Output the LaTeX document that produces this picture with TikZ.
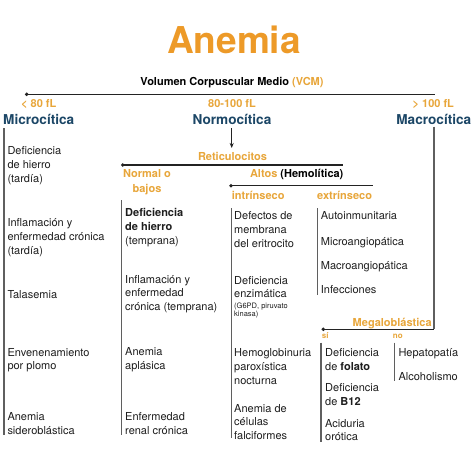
\documentclass[tikz,border=0pt]{standalone}
\usepackage{fontspec}
\setmainfont{TeX Gyre Heros}
\definecolor{anorange}{RGB}{237,154,40}
\definecolor{lblorange}{RGB}{232,166,58}
\definecolor{anblue}{RGB}{27,70,102}
\definecolor{vline}{RGB}{95,95,95}
\definecolor{hline}{RGB}{35,35,35}
\definecolor{bodytxt}{RGB}{30,30,30}
\usetikzlibrary{arrows.meta}
\tikzset{
 txt/.style={anchor=base west, inner sep=0pt, align=left, font=\fontsize{11}{13.9}\selectfont, text=bodytxt},
 smalltxt/.style={anchor=base west, inner sep=0pt, align=left, font=\fontsize{7.5}{8}\selectfont, text=bodytxt},
 lbl/.style={anchor=base, inner sep=0pt, font=\bfseries\fontsize{11}{14.5}\selectfont, text=lblorange},
 hdr/.style={anchor=base, inner sep=0pt, font=\bfseries\fontsize{13.6}{16}\selectfont, text=anblue},
 hl/.style={draw=hline, line width=1.2pt},
 vl/.style={draw=vline, line width=1.1pt},
 dotnode/.style={circle, fill=hline, inner sep=0pt, minimum size=3.8pt},
 arr/.style={draw=hline, line width=1pt, -{Stealth[length=5pt,width=4pt]}},
}
\begin{document}
\begin{tikzpicture}[x=1pt,y=-1pt]
\useasboundingbox[fill=white] (0,0) rectangle (474,474);
% title
\node[anchor=base, inner sep=0pt, font=\bfseries\fontsize{37}{40}\selectfont, text=anorange] (title) at (234,53) {Anemia};
\node[anchor=base, inner sep=0pt, font=\bfseries\fontsize{11}{13}\selectfont, text=black] (vcm) at (232,85.5) {Volumen Corpuscular Medio \textcolor{lblorange}{(VCM)}};
% VCM line
\node[dotnode] (vcmdot) at (26.7,94.3) {};
\coordinate (vcmR) at (435,94.3);
\draw[hl] (vcmdot.center) -- (vcmR);
% ranges
\node[lbl] (r1) at (38.8,107) {< 80 fL};
\node[lbl] (r2) at (232,107) {80-100 fL};
\node[lbl] (r3) at (433.3,107) {> 100 fL};
\node[hdr] (micro) at (38.7,124.5) {Microcítica};
\node[hdr] (normo) at (232,124.5) {Normocítica};
\node[hdr] (macro) at (433.8,124.5) {Macrocítica};
% arrow
\coordinate (arrS) at (231.7,128);
\coordinate (arrE) at (231.7,148);
\draw[arr] (arrS) -- (arrE);
\node[lbl] (retic) at (232.5,160) {Reticulocitos};
\node[dotnode] (reticdot) at (122.7,165) {};
\coordinate (reticR) at (343,165);
\draw[hl] (reticdot.center) -- (reticR);
\node[lbl, align=center] (normal) at (147,192) {Normal o\\bajos};
\node[lbl] (altos) at (296.7,177.5) {Altos \textcolor{black}{(Hemolítica)}};
\node[dotnode] (altosdot) at (231,185.7) {};
\coordinate (altosR) at (373,185.7);
\draw[hl] (altosdot.center) -- (altosR);
\node[lbl, anchor=base west] (intr) at (231.7,199.5) {intrínseco};
\node[lbl, anchor=base west] (extr) at (317,199.5) {extrínseco};
% vertical lines
\coordinate (v1t) at (4,128.3);   \coordinate (v1b) at (4,435);
\coordinate (v2t) at (121.7,200); \coordinate (v2b) at (121.7,435);
\coordinate (v3t) at (231.5,208); \coordinate (v3b) at (231.5,438);
\coordinate (v4t) at (317.3,208); \coordinate (v4b) at (317.3,295);
\coordinate (vmt) at (434,126.7); \coordinate (vmb) at (434,329.3);
\coordinate (v5t) at (321,342.7); \coordinate (v5b) at (321,441.7);
\coordinate (v6t) at (394.3,342.7); \coordinate (v6b) at (394.3,381);
\draw[vl] (v1t) -- (v1b);
\draw[vl] (v2t) -- (v2b);
\draw[vl] (v3t) -- (v3b);
\draw[vl] (v4t) -- (v4b);
\draw[vl] (vmt) -- (vmb);
\draw[vl] (v5t) -- (v5b);
\draw[vl] (v6t) -- (v6b);
% megaloblastica
\node[lbl] (megalo) at (392.2,326) {Megaloblástica};
\node[dotnode] (megdot) at (323.3,329.3) {};
\draw[hl] (megdot.center) -- (vmb);
\node[lbl, anchor=base west, font=\bfseries\fontsize{8}{9}\selectfont] (si) at (321.7,338.5) {sí};
\node[lbl, anchor=base west, font=\bfseries\fontsize{8}{9}\selectfont] (no) at (392.7,338.5) {no};
% column 1 (anchor = baseline of last line)
\node[txt] (c1a) at (7.3,182.3) {Deficiencia\\de hierro\\(tardía)};
\node[txt] (c1b) at (7.3,254.3) {Inflamación y\\enfermedad crónica\\(tardía)};
\node[txt] (c1c) at (7.3,298) {Talasemia};
\node[txt] (c1d) at (7.3,369.9) {Envenenamiento\\por plomo};
\node[txt] (c1e) at (7.3,434.4) {Anemia\\sideroblástica};
% column 2
\node[txt] (c2a) at (125,244.5) {\textbf{Deficiencia}\\\textbf{de hierro}\\(temprana)};
\node[txt] (c2b) at (125,310.8) {Inflamación y\\enfermedad\\crónica (temprana)};
\node[txt] (c2c) at (125,369.4) {Anemia\\aplásica};
\node[txt] (c2d) at (125,434.4) {Enfermedad\\renal crónica};
% column 3
\node[txt] (c3a) at (234,247.3) {Defectos de\\membrana\\del eritrocito};
\node[txt] (c3b) at (234,297.9) {Deficiencia\\enzimática};
\node[smalltxt] (c3bs) at (234,316) {(G6PD, piruvato\\kinasa)};
\node[txt] (c3c) at (234,384.3) {Hemoglobinuria\\paroxística\\nocturna};
\node[txt] (c3d) at (234,439.8) {Anemia de\\células\\falciformes};
% column 4
\node[txt] (c4a) at (320.7,219.5) {Autoinmunitaria};
\node[txt] (c4b) at (320.7,245) {Microangiopática};
\node[txt] (c4c) at (320.7,269) {Macroangiopática};
\node[txt] (c4d) at (320.7,293) {Infecciones};
% column 5
\node[txt] (c5a) at (325,370.4) {Deficiencia\\de \textbf{folato}};
\node[txt] (c5b) at (325,405.4) {Deficiencia\\de \textbf{B12}};
\node[txt] (c5c) at (325,440.9) {Aciduria\\orótica};
% column 6
\node[txt] (c6a) at (398.3,356.5) {Hepatopatía};
\node[txt] (c6b) at (398.3,380.5) {Alcoholismo};
\end{tikzpicture}
\end{document}
